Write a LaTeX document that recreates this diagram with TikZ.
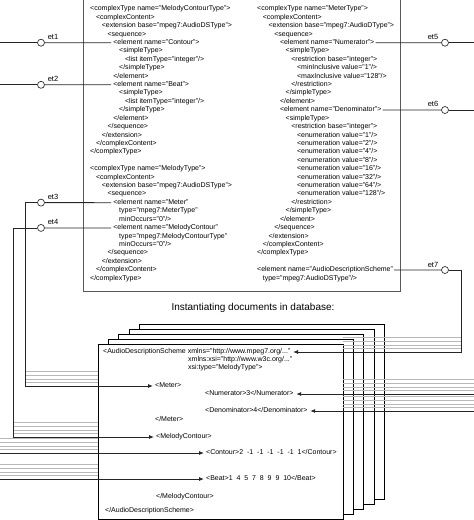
\documentclass[tikz,border=0pt]{standalone}
\usepackage{fontspec}
\setmainfont{Liberation Sans}
\usetikzlibrary{arrows.meta}
\newcommand\gp{\hspace{3.9pt}}
\newcommand\Lc[3]{\node[code] (l#1) at ({90+5.8*#2},{9+8.42*(#1-1)}) {#3};}
\newcommand\Rc[3]{\node[code] (r#1) at ({257+5.7*#2},{9+8.42*(#1-1)}) {#3};}
\begin{document}
\begin{tikzpicture}[x=1pt,y=-1pt,
  code/.style={anchor=west,inner sep=0pt,font=\fontsize{7}{8}\selectfont,text height=5pt,text depth=1.5pt},
  conn/.style={draw=black!85,line width=0.8pt},
  ghost/.style={draw=black!28,line width=0.6pt},
  port/.style={circle,draw=black!80,fill=white,line width=0.7pt,minimum size=7pt,inner sep=0pt},
  portlbl/.style={inner sep=0pt,font=\fontsize{7.5}{8}\selectfont},
  pagebox/.style={draw=black,fill=white,line width=0.7pt,minimum width=245pt,minimum height=175pt,anchor=north west,inner sep=0pt},
  tip/.style={-{Latex[length=5pt,width=4pt]}}
]
\useasboundingbox (0,0) rectangle (474,520);
% schema box
\node[draw=black!65,line width=1.4pt,minimum width=317pt,minimum height=305pt,anchor=south west,inner sep=0pt] (schema) at (83,292) {};
% left column
\Lc{1}{0}{<complexType name="MelodyContourType">}
\Lc{2}{1}{<complexContent>}
\Lc{3}{2}{<extension base="mpeg7:AudioDSType">}
\Lc{4}{3}{<sequence>}
\Lc{5}{4}{<element name="Contour">}
\Lc{6}{5}{<simpleType>}
\Lc{7}{6}{<list itemType="integer"/>}
\Lc{8}{5}{</simpleType>}
\Lc{9}{4}{</element>}
\Lc{10}{4}{<element name="Beat">}
\Lc{11}{5}{<simpleType>}
\Lc{12}{6}{<list itemType="integer"/>}
\Lc{13}{5}{</simpleType>}
\Lc{14}{4}{</element>}
\Lc{15}{3}{</sequence>}
\Lc{16}{2}{</extension>}
\Lc{17}{1}{</complexContent>}
\Lc{18}{0}{</complexType>}
\Lc{20}{0}{<complexType name="MelodyType">}
\Lc{21}{1}{<complexContent>}
\Lc{22}{2}{<extension base="mpeg7:AudioDSType">}
\Lc{23}{3}{<sequence>}
\Lc{24}{4}{<element name="Meter"}
\Lc{25}{5}{type="mpeg7:MeterType"}
\Lc{26}{5}{minOccurs="0"/>}
\Lc{27}{4}{<element name="MelodyContour"}
\Lc{28}{5}{type="mpeg7:MelodyContourType"}
\Lc{29}{5}{minOccurs="0"/>}
\Lc{30}{3}{</sequence>}
\Lc{31}{2}{</extension>}
\Lc{32}{1}{</complexContent>}
\Lc{33}{0}{</complexType>}
% right column
\Rc{1}{0}{<complexType name="MeterType">}
\Rc{2}{1}{<complexContent>}
\Rc{3}{2}{<extension base="mpeg7:AudioDType">}
\Rc{4}{3}{<sequence>}
\Rc{5}{4}{<element name="Numerator">}
\Rc{6}{5}{<simpleType>}
\Rc{7}{6}{<restriction base="integer">}
\Rc{8}{7}{<minInclusive value="1"/>}
\Rc{9}{7}{<maxInclusive value="128"/>}
\Rc{10}{6}{</restriction>}
\Rc{11}{5}{</simpleType>}
\Rc{12}{4}{</element>}
\Rc{13}{4}{<element name="Denominator">}
\Rc{14}{5}{<simpleType>}
\Rc{15}{6}{<restriction base="integer">}
\Rc{16}{7}{<enumeration value="1"/>}
\Rc{17}{7}{<enumeration value="2"/>}
\Rc{18}{7}{<enumeration value="4"/>}
\Rc{19}{7}{<enumeration value="8"/>}
\Rc{20}{7}{<enumeration value="16"/>}
\Rc{21}{7}{<enumeration value="32"/>}
\Rc{22}{7}{<enumeration value="64"/>}
\Rc{23}{7}{<enumeration value="128"/>}
\Rc{24}{6}{</restriction>}
\Rc{25}{5}{</simpleType>}
\Rc{26}{4}{</element>}
\Rc{27}{3}{</sequence>}
\Rc{28}{2}{</extension>}
\Rc{29}{1}{</complexContent>}
\Rc{30}{0}{</complexType>}
\Rc{32}{0}{<element name="AudioDescriptionScheme"}
\Rc{33}{1}{type="mpeg7:AudioDSType"/>}
% title
\node[inner sep=0pt,font=\fontsize{10}{12}\selectfont] (title) at (253,308) {Instantiating documents in database:};
% pages
\node[pagebox] (pg4) at (138.8,324) {};
\node[pagebox] (pg3) at (128.6,329) {};
\node[pagebox] (pg2) at (118.4,334) {};
\node[pagebox] (pg1) at (108.2,339) {};
\node[pagebox] (pg0) at (98,344) {};
% page text
\node[code] (p1) at (103,352) {<AudioDescriptionScheme xmlns="http://www.mpeg7.org/..."};
\node[code] (p2) at (188,360) {xmlns:xsi="http://www.w3c.org/..."};
\node[code] (p3) at (188,367.5) {xsi:type="MelodyType">};
\node[code] (p4) at (155,386) {<Meter>};
\node[code] (p5) at (205,394) {<Numerator>3</Numerator>};
\node[code] (p6) at (205,411) {<Denominator>4</Denominator>};
\node[code] (p7) at (155,420) {</Meter>};
\node[code] (p8) at (156,437) {<MelodyContour>};
\node[code] (p9) at (206,453) {<Contour>2\gp-1\gp-1\gp-1\gp-1\gp-1\gp1</Contour>};
\node[code] (p10) at (206,479) {<Beat>1\gp4\gp5\gp7\gp8\gp9\gp9\gp10</Beat>};
\node[code] (p11) at (156,497) {</MelodyContour>};
\node[code] (p12) at (105,511) {</AudioDescriptionScheme>};
% ports
\node[port] (c1) at (41,42.7) {};
\node[port] (c2) at (41,84.8) {};
\node[port] (c3) at (41,202.6) {};
\node[port] (c4) at (41,227.9) {};
\node[port] (c5) at (445,42.7) {};
\node[port] (c6) at (445,110) {};
\node[port] (c7) at (445,270) {};
\node[portlbl] (et1) at (53,37) {et1};
\node[portlbl] (et2) at (53,79) {et2};
\node[portlbl] (et3) at (53,197) {et3};
\node[portlbl] (et4) at (53,222) {et4};
\node[portlbl] (et5) at (433,37) {et5};
\node[portlbl] (et6) at (433,104) {et6};
\node[portlbl] (et7) at (433,264.5) {et7};
% free ends
\coordinate (e1) at (0,42.7);
\coordinate (e2) at (0,84.8);
\coordinate (e5) at (474,42.7);
\coordinate (e6) at (474,110);
\coordinate (b1) at (0,453);
\coordinate (b2) at (0,479);
\coordinate (b5) at (474,394);
\coordinate (b6) at (474,411);
\coordinate (v3) at (25,386);
\coordinate (v4) at (13,437);
\coordinate (v7) at (461,352);
% ghost lines (connections into the pages behind)
\foreach \k in {1,...,4}{
  \draw[ghost] (25,{386-3.6*\k}) -- (98,{386-3.6*\k});
  \draw[ghost] (13,{437-3.6*\k}) -- (98,{437-3.6*\k});
  \draw[ghost] (0,{453-3.6*\k}) -- (98,{453-3.6*\k});
  \draw[ghost] (0,{479-3.6*\k}) -- (98,{479-3.6*\k});
  \draw[ghost] (461,{352-3.6*\k}) -- (343,{352-3.6*\k});
  \draw[ghost] (474,{394-3.6*\k}) -- (343,{394-3.6*\k});
  \draw[ghost] (474,{411-3.6*\k}) -- (343,{411-3.6*\k});
}
% connectors
\draw[conn] (e1) -- (c1);
\draw[conn] (c1) -- ([xshift=-2pt]l5.west);
\draw[conn] (e2) -- (c2);
\draw[conn] (c2) -- ([xshift=-2pt]l10.west);
\draw[conn] (c3) -- ([xshift=-2pt]l24.west);
\draw[conn] (c4) -- ([xshift=-2pt]l27.west);
\draw[conn] ([xshift=1pt]r5.east) -- (c5);
\draw[conn] (c5) -- (e5);
\draw[conn] ([xshift=1pt]r13.east) -- (c6);
\draw[conn] (c6) -- (e6);
\draw[conn] ([xshift=1pt]r32.east) -- (c7);
\draw[conn,tip] (c7) -| (v7) -- ([xshift=2.5pt]p1.east);
\draw[conn,tip] (c3) -| (v3) -- ([xshift=-2pt]p4.west);
\draw[conn,tip] (c4) -| (v4) -- ([xshift=-2pt]p8.west);
\draw[conn,tip] (b1) -- ([xshift=-2pt]p9.west);
\draw[conn,tip] (b2) -- ([xshift=-2pt]p10.west);
\draw[conn,tip] (b5) -- ([xshift=2.5pt]p5.east);
\draw[conn,tip] (b6) -- ([xshift=2.5pt]p6.east);
\end{tikzpicture}
\end{document}
